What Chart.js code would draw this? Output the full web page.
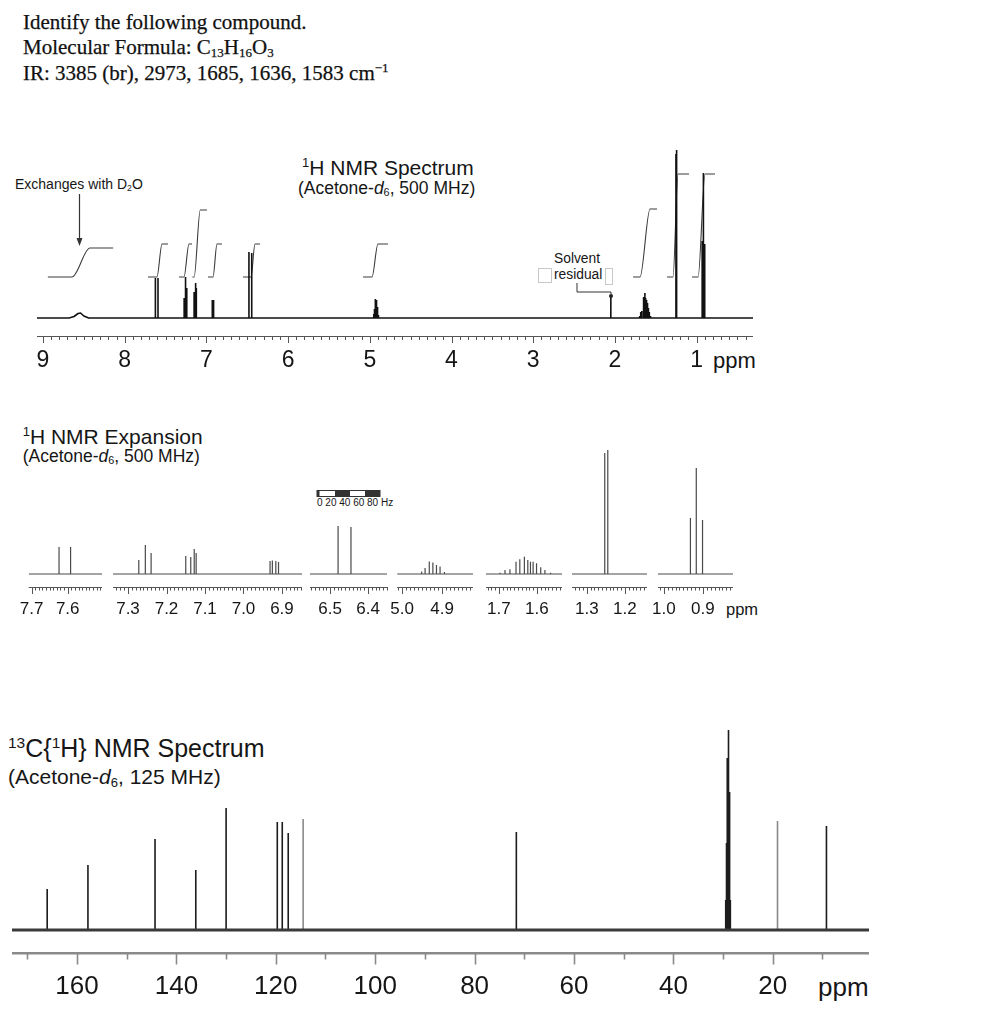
<!DOCTYPE html>
<html><head><meta charset="utf-8">
<script src="https://cdn.jsdelivr.net/npm/chart.js@4.4.0/dist/chart.umd.min.js"></script>
<style>
html,body{margin:0;padding:0;background:#fff;}
body{width:1006px;height:1024px;position:relative;overflow:hidden;font-family:"Liberation Sans",Arial,sans-serif;color:#161616;}
.t{position:absolute;white-space:nowrap;line-height:1;}
.serif{font-family:"Liberation Serif","Times New Roman",serif;font-size:21px;color:#111;-webkit-text-stroke:0.25px #111;}
sub,sup{line-height:0;font-size:0.62em;}
sup{vertical-align:0.6em;}
sub{vertical-align:-0.22em;}
.cw{position:absolute;}
</style></head>
<body>
<div class="t serif" style="left:23px;top:11.5px">Identify the following compound.</div>
<div class="t serif" style="left:23px;top:37px">Molecular Formula: C<sub>13</sub>H<sub>16</sub>O<sub>3</sub></div>
<div class="t serif" style="left:23px;top:62.5px">IR: 3385 (br), 2973, 1685, 1636, 1583 cm<sup>−1</sup></div>

<div class="t" style="left:302px;top:157px;font-size:21px"><sup>1</sup>H NMR Spectrum</div>
<div class="t" style="left:298px;top:180px;font-size:17.5px">(Acetone-<i>d</i><sub>6</sub>, 500 MHz)</div>
<div class="t" style="left:15px;top:177.3px;font-size:14px">Exchanges with D<sub>2</sub>O</div>
<div class="t" style="left:554px;top:252.3px;font-size:13.8px">Solvent</div>
<div class="t" style="left:554px;top:268.3px;font-size:13.8px">residual</div>
<div class="t" style="left:713px;top:349.5px;font-size:22px">ppm</div>

<div class="t" style="left:22.7px;top:426.2px;font-size:21px"><sup>1</sup>H NMR Expansion</div>
<div class="t" style="left:22.7px;top:448.2px;font-size:17.5px">(Acetone-<i>d</i><sub>6</sub>, 500 MHz)</div>
<div class="t" style="left:317px;top:498px;font-size:10px">0 20 40 60 80 Hz</div>
<div class="t" style="left:726px;top:601px;font-size:16.5px">ppm</div>

<div class="t" style="left:8px;top:735.8px;font-size:25px"><sup>13</sup>C{<sup>1</sup>H} NMR Spectrum</div>
<div class="t" style="left:8px;top:765.7px;font-size:21px">(Acetone-<i>d</i><sub>6</sub>, 125 MHz)</div>
<div class="t" style="left:818px;top:974px;font-size:26px">ppm</div>

<div class="cw" id="wTop" style="left:17px;top:130px;width:756px;height:250px"><canvas id="cTop"></canvas></div>
<div id="expHost"></div>
<div class="cw" id="wC13" style="left:0px;top:710px;width:889px;height:310px"><canvas id="cC13"></canvas></div>

<svg width="1006" height="1024" style="position:absolute;left:0;top:0;z-index:5;pointer-events:none">
 <line x1="79.5" y1="194" x2="79.5" y2="239" stroke="#333" stroke-width="1.2"/>
 <polygon points="76.5,238 82.5,238 79.5,246" fill="#333"/>
 <polyline points="577,283 577,292 611,292 611,294" fill="none" stroke="#333" stroke-width="1"/>
 <circle cx="611" cy="296" r="2" fill="#222"/>
 <rect x="538.5" y="268.5" width="13" height="14" fill="none" stroke="#c8c8c8"/>
 <rect x="605.5" y="268.5" width="7" height="16" fill="none" stroke="#c8c8c8"/>
 <rect x="317" y="490.5" width="63" height="6" fill="#fff" stroke="#333"/>
 <rect x="317" y="490.5" width="2.5" height="6" fill="#333"/>
 <rect x="335" y="490.5" width="15" height="6" fill="#333"/>
 <rect x="365" y="490.5" width="15" height="6" fill="#333"/>
</svg>

<script>
// ---------- DATA ----------
// 1H full spectrum
const h1Range = [0.31, 9.073];
const h1Ticks = [9, 8, 7, 6, 5, 4, 3, 2, 1];
const h1Peaks = [
  [7.624, 40], [7.592, 40],
  [7.272, 20], [7.255, 41], [7.240, 30],
  [7.150, 26], [7.137, 24], [7.128, 35], [7.123, 30],
  [6.931, 18], [6.925, 18], [6.916, 18], [6.909, 17],
  [6.479, 66], [6.445, 65],
  [4.951, 4], [4.9425, 9], [4.932, 19], [4.923, 18], [4.914, 14], [4.905, 11], [4.894, 3],
  [2.05, 22],
  [1.697, 2], [1.684, 6], [1.671, 7], [1.655, 18], [1.645, 21], [1.633, 25], [1.624, 20],
  [1.617, 18], [1.610, 18], [1.601, 15], [1.590, 10], [1.579, 6], [1.564, 2],
  [1.253, 164], [1.245, 168],
  [0.932, 77], [0.917, 145], [0.901, 74]
];
const h1Broad = [[8.68, 0], [8.62, 1.5], [8.57, 4.5], [8.54, 5], [8.50, 2], [8.44, 0]];
// integrals: [start, riseStart, riseEnd, end, low, high]
const h1Integrals = [
  [8.94, 8.645, 8.425, 8.14, 41, 70],
  [7.715, 7.605, 7.543, 7.470, 41, 74],
  [7.335, 7.274, 7.213, 7.176, 41, 74],
  [7.17, 7.15, 7.075, 6.993, 41, 108],
  [6.98, 6.919, 6.87, 6.809, 41, 74],
  [6.552, 6.454, 6.405, 6.344, 41, 74],
  [5.083, 4.973, 4.90, 4.777, 41, 74],
  [1.778, 1.693, 1.570, 1.485, 41, 109],
  [1.362, 1.289, 1.228, 1.093, 41, 144],
  [1.056, 0.982, 0.897, 0.775, 41, 144]
];

// 1H expansions
const expRanges = [[7.505, 7.708], [6.848, 7.339], [6.350, 6.553], [4.8225, 5.0125], [1.534, 1.734], [1.142, 1.339], [0.823, 1.015]];
const expTicks = [[7.7, 7.6], [7.3, 7.2, 7.1, 7.0, 6.9], [6.5, 6.4], [5.0, 4.9], [1.7, 1.6], [1.3, 1.2], [1.0, 0.9]];
const expPeaks = [
  [[7.624, 27], [7.592, 27]],
  [[7.272, 14], [7.255, 29], [7.240, 21], [7.150, 18], [7.137, 17], [7.128, 25], [7.123, 21],
   [6.931, 13], [6.925, 13.5], [6.916, 13], [6.909, 12]],
  [[6.479, 48], [6.445, 47]],
  [[4.951, 2.5], [4.9425, 6], [4.932, 12.5], [4.923, 11.5], [4.914, 9], [4.905, 7.5], [4.894, 2]],
  [[1.697, 1.3], [1.684, 4], [1.671, 4.7], [1.655, 12.3], [1.645, 14.7], [1.633, 17.3], [1.624, 14],
   [1.617, 12.3], [1.610, 12.3], [1.601, 10.7], [1.590, 6.7], [1.579, 4], [1.564, 1.3]],
  [[1.253, 121], [1.245, 124]],
  [[0.932, 56], [0.917, 106], [0.901, 54]]
];

// 13C spectrum
const c13Range = [0.64, 173.08];
const c13Ticks = [160, 140, 120, 100, 80, 60, 40, 20];
const c13Peaks = [
  [166.0, 41], [157.8, 65], [144.3, 91], [136.1, 60], [130.0, 122],
  [119.7, 108], [118.7, 108], [117.5, 97], [114.5, 111], [71.6, 98],
  [29.47, 30], [29.31, 87], [29.16, 172], [29.0, 200], [28.85, 172], [28.69, 138], [28.54, 30],
  [19.05, 109], [9.2, 104]
];
const c13Light = [114.5, 19.05];

// ---------- LAYOUT (pixels) ----------
const expArea = [[27, 102], [113, 302], [310, 387], [397, 473], [486, 562], [572, 647], [658, 733]];
const FONT = '"Liberation Sans", Arial, sans-serif';

// ---------- HELPERS ----------
function sticks(peaks, range, lightList) {
  const pts = [{x: range[1], y: 0}];
  peaks.slice().sort((a, b) => b[0] - a[0]).forEach(p => {
    const lt = lightList ? lightList.indexOf(p[0]) >= 0 : false;
    pts.push({x: p[0], y: 0}, {x: p[0], y: p[1], lt: lt}, {x: p[0], y: 0, lt: lt});
  });
  pts.push({x: range[0], y: 0});
  return pts;
}
function withBroad(stickPts, broad) {
  const all = stickPts.concat(broad.map(b => ({x: b[0], y: b[1]})));
  return all.sort((a, b) => b.x - a.x);
}
function integralPts(it) {
  return [{x: it[0], y: it[4]}, {x: it[1], y: it[4]}, {x: it[2], y: it[5]}, {x: it[3], y: it[5]}];
}

const axisPlugin = {
  id: 'nmrAxis',
  afterDraw(chart, args, o) {
    const {ctx, chartArea: a} = chart;
    const sx = chart.scales.x;
    const y = a.bottom + o.axisWidth / 2;
    ctx.save();
    ctx.strokeStyle = o.color;
    ctx.lineWidth = o.axisWidth;
    ctx.beginPath(); ctx.moveTo(a.left, y); ctx.lineTo(a.right, y); ctx.stroke();
    ctx.lineWidth = o.tickWidth;
    const isMajor = v => o.major.some(m => Math.abs(m - v) < o.minorStep / 10);
    const lo = sx.min, hi = sx.max;
    const i0 = Math.ceil(lo / o.minorStep - 1e-9), i1 = Math.floor(hi / o.minorStep + 1e-9);
    ctx.beginPath();
    for (let i = i0; i <= i1; i++) {
      const v = i * o.minorStep;
      const len = isMajor(v) ? o.majLen : o.minLen;
      const px = Math.round(sx.getPixelForValue(v)) + 0.5;
      ctx.moveTo(px, a.bottom);
      ctx.lineTo(px, a.bottom + o.axisWidth + len);
    }
    ctx.stroke();
    ctx.restore();
  }
};

function xAxis(range, ticks, size, pad, h, fmt) {
  return {
    type: 'linear', reverse: true, min: range[0], max: range[1],
    grid: {display: false, drawTicks: false},
    border: {display: false},
    ticks: {autoSkip: false, maxRotation: 0, minRotation: 0, padding: pad, color: '#161616',
      font: {family: FONT, size: size}, callback: v => fmt(v)},
    afterBuildTicks: s => { s.ticks = ticks.map(v => ({value: v})); },
    afterFit: s => { s.height = h; }
  };
}
function baseOpts(xa, ymin, ymax, pad, axisOpt) {
  return {
    responsive: true, maintainAspectRatio: false, animation: false,
    layout: {padding: pad},
    plugins: {legend: {display: false}, tooltip: {enabled: false}, nmrAxis: axisOpt},
    scales: {x: xa, y: {display: false, min: ymin, max: ymax}},
    elements: {point: {radius: 0}, line: {borderJoinStyle: 'bevel', borderCapStyle: 'butt'}}
  };
}

// ---------- TOP 1H ----------
const topDatasets = [{
  data: withBroad(sticks(h1Peaks, h1Range), h1Broad),
  showLine: true, borderColor: '#111', borderWidth: 1.6, pointRadius: 0, tension: 0
}].concat(h1Integrals.map(it => ({
  data: integralPts(it), showLine: true, borderColor: '#3a3a3a', borderWidth: 1.1,
  pointRadius: 0, cubicInterpolationMode: 'monotone'
})));
new Chart(document.getElementById('cTop'), {
  type: 'scatter',
  data: {datasets: topDatasets},
  options: baseOpts(xAxis(h1Range, h1Ticks, 23, 11, 44, v => String(v)), -18, 178,
    {left: 20, right: 20, top: 10, bottom: 0},
    {color: '#555', axisWidth: 1, tickWidth: 1, major: h1Ticks, minorStep: 0.1, majLen: 6, minLen: 3}),
  plugins: [axisPlugin]
});

// ---------- EXPANSIONS ----------
const host = document.getElementById('expHost');
expRanges.forEach((rg, i) => {
  const ar = expArea[i];
  const w = document.createElement('div');
  w.className = 'cw';
  w.style.left = (ar[0] - 20) + 'px';
  w.style.top = '424px';
  w.style.width = (ar[1] - ar[0] + 40) + 'px';
  w.style.height = '200px';
  const c = document.createElement('canvas');
  w.appendChild(c); host.appendChild(w);
  new Chart(c, {
    type: 'scatter',
    data: {datasets: [{data: sticks(expPeaks[i], rg), showLine: true, borderColor: '#4a4a4a',
      borderWidth: 1.2, pointRadius: 0, tension: 0}]},
    options: baseOpts(xAxis(rg, expTicks[i], 17, 12, 37, v => v.toFixed(1)), -13, 140,
      {left: 20, right: 20, top: 10, bottom: 0},
      {color: '#555', axisWidth: 1, tickWidth: 1, major: expTicks[i], minorStep: 0.01, majLen: 6, minLen: 2.5}),
    plugins: [axisPlugin]
  });
});

// ---------- 13C ----------
new Chart(document.getElementById('cC13'), {
  type: 'scatter',
  data: {datasets: [
    {data: [{x: c13Range[1], y: 0}, {x: c13Range[0], y: 0}], showLine: true, borderColor: '#3a3a3a',
      borderWidth: 3, pointRadius: 0},
    {data: sticks(c13Peaks, c13Range, c13Light), showLine: true, borderColor: '#1c1c1c', borderWidth: 1.6,
      pointRadius: 0, tension: 0,
      segment: {borderColor: ctx => (ctx.p1 && ctx.p1.raw && ctx.p1.raw.lt) ? '#8a8a8a' : undefined}}
  ]},
  options: baseOpts(xAxis(c13Range, c13Ticks, 26, 19.5, 68, v => String(v)), -22, 210,
    {left: 12, right: 20, top: 10, bottom: 0},
    {color: '#8a8a8a', axisWidth: 2.5, tickWidth: 1.6, major: c13Ticks, minorStep: 10, majLen: 10, minLen: 5}),
  plugins: [axisPlugin]
});
</script>
</body></html>
